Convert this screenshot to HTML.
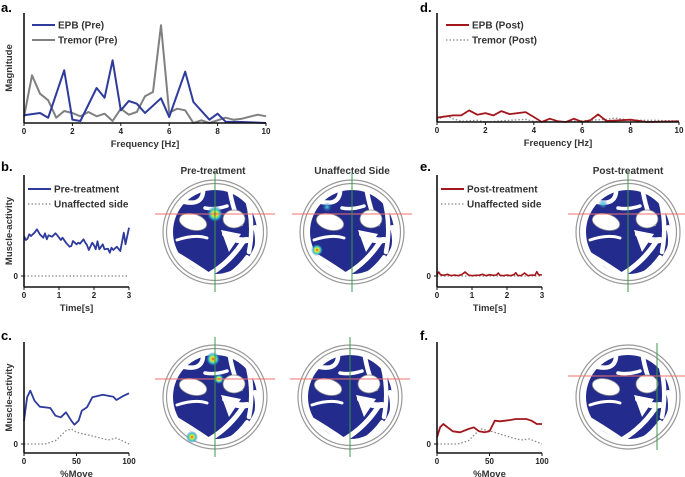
<!DOCTYPE html>
<html><head><meta charset="utf-8">
<style>
body{margin:0;background:#fff;width:685px;height:477px;overflow:hidden}
svg{display:block}
text{font-family:"Liberation Sans",Arial,sans-serif}
.lbl{font-size:13px;font-weight:bold}
.tk{font-size:8px;font-weight:bold;fill:#222}
.ax{font-size:9.5px;font-weight:bold;fill:#333}
.lg{font-size:10px;font-weight:bold;fill:#333}
.tt{font-size:10px;font-weight:bold;fill:#333}
</style></head><body>
<svg id="fig" width="685" height="477" viewBox="0 0 685 477">
<defs>
<clipPath id="cc"><circle cx="0" cy="0" r="46"/></clipPath>
<g id="anat">
<circle r="52" fill="none" stroke="#999" stroke-width="1.2"/>
<circle r="48.5" fill="none" stroke="#999" stroke-width="1.2"/>
<g clip-path="url(#cc)">
<circle r="42" fill="#232b8c"/>
<g fill="none" stroke="#fff" stroke-linecap="round">
<path d="M-46 18 Q-25 30 -2 46" stroke-width="5"/>
<path d="M-30 -30 Q-10 -26 -12 -46" stroke-width="4.5"/>
<path d="M-46 -22 Q-30 -28 -28 -40" stroke-width="4"/>
<path d="M-10 -24 Q0 -22 12 -26" stroke-width="3.5"/>
<path d="M14 -46 Q18 -20 26 -8" stroke-width="4.5"/>
<path d="M30 -40 Q40 -10 34 20" stroke-width="4.5"/>
<path d="M40 -5 Q44 10 40 20" stroke-width="4"/>
<path d="M10 2 Q20 10 32 8" stroke-width="6"/>
<path d="M28 10 Q15 30 -5 42" stroke-width="5"/>
<path d="M32 25 Q25 35 15 42" stroke-width="4"/>
<path d="M-38 8 Q-20 2 -8 6" stroke-width="3"/>
<path d="M-42 30 Q-30 42 -15 46" stroke-width="4"/>
</g>
<path d="M6 -2 L26 2 L14 20 Z" fill="#fff"/>
<ellipse cx="-22" cy="-10" rx="14" ry="8" fill="#fff" stroke="#888" stroke-width="0.8" transform="rotate(15 -22 -10)"/>
<ellipse cx="19" cy="-13" rx="11" ry="9" fill="#fff" stroke="#888" stroke-width="0.8"/>
</g>
</g>
<radialGradient id="hot"><stop offset="0" stop-color="#e33"/><stop offset="0.3" stop-color="#ee2"/><stop offset="0.6" stop-color="#3cc"/><stop offset="1" stop-color="#3060c0" stop-opacity="0"/></radialGradient>
<radialGradient id="warm"><stop offset="0" stop-color="#4dd"/><stop offset="1" stop-color="#3060c0" stop-opacity="0"/></radialGradient>
</defs>

<text class="lbl" x="1" y="12">a.</text>
<text class="lbl" x="420" y="12">d.</text>
<text class="lbl" x="1" y="171">b.</text>
<text class="lbl" x="420" y="171">e.</text>
<text class="lbl" x="1" y="340">c.</text>
<text class="lbl" x="420" y="340">f.</text>

<text class="tt" x="213" y="174" text-anchor="middle">Pre-treatment</text>
<text class="tt" x="352" y="174" text-anchor="middle">Unaffected Side</text>
<text class="tt" x="628" y="174" text-anchor="middle">Post-treatment</text>

<g transform="translate(215,232)">
<use href="#anat"/><circle cx="0" cy="-18" r="8" fill="url(#hot)"/>
<line x1="-60" y1="-18" x2="60" y2="-18" stroke="#f07070" stroke-width="1"/><line x1="0" y1="-60" x2="0" y2="60" stroke="#3a9a4a" stroke-width="1"/></g>
<g transform="translate(352,232)">
<use href="#anat"/><circle cx="-35" cy="18" r="6" fill="url(#hot)"/><circle cx="-25" cy="-25" r="5" fill="url(#warm)"/>
<line x1="-60" y1="-18" x2="60" y2="-18" stroke="#f07070" stroke-width="1"/><line x1="0" y1="-60" x2="0" y2="60" stroke="#3a9a4a" stroke-width="1"/></g>
<g transform="translate(628,232)">
<use href="#anat"/><circle cx="-25" cy="-28" r="5" fill="url(#warm)"/>
<line x1="-60" y1="-18" x2="60" y2="-18" stroke="#f07070" stroke-width="1"/><line x1="0" y1="-60" x2="0" y2="60" stroke="#3a9a4a" stroke-width="1"/></g>
<g transform="translate(215,397)">
<use href="#anat"/><circle cx="-2" cy="-38" r="7" fill="url(#hot)"/><circle cx="4" cy="-18" r="5" fill="url(#hot)"/><circle cx="-23" cy="40" r="6" fill="url(#hot)"/>
<line x1="-60" y1="-18" x2="60" y2="-18" stroke="#f07070" stroke-width="1"/><line x1="0" y1="-60" x2="0" y2="60" stroke="#3a9a4a" stroke-width="1"/></g>
<g transform="translate(350,397)">
<use href="#anat"/>
<line x1="-60" y1="-18" x2="60" y2="-18" stroke="#f07070" stroke-width="1"/><line x1="0" y1="-60" x2="0" y2="60" stroke="#3a9a4a" stroke-width="1"/></g>
<g transform="translate(628,397)">
<use href="#anat"/>
<line x1="-60" y1="-21" x2="60" y2="-21" stroke="#f07070" stroke-width="1"/><line x1="29" y1="-54" x2="29" y2="53" stroke="#3a9a4a" stroke-width="1"/></g>

<g id="charts"></g>
</svg>
<script>
const aEpbHz=[0,0.66,1.0,1.66,2.0,2.33,3.0,3.33,3.66,4.0,4.33,4.66,5.0,5.66,6.0,6.66,7.0,7.66,8.0,8.33,9.0,10];
const aEpbMag=[23,30,16,158,10,6,105,76,188,38,66,58,30,74,18,154,63,10,28,4,3,0];
const aTremHz=[0,0.33,0.66,1.0,1.33,1.66,2.0,2.33,2.66,3.0,3.33,3.66,4.0,4.33,4.66,5.0,5.33,5.66,6.0,6.33,6.66,7.0,7.33,7.66,8.33,8.66,9.0,9.66,10];
const aTremMag=[18,143,88,68,16,36,30,20,33,20,28,6,43,25,33,80,93,293,31,43,38,0,8,0,16,10,13,25,20];
const dEpbHz=[0,0.66,1.0,1.33,1.66,2.0,2.33,2.66,3.0,3.66,4.0,4.33,4.66,5.0,5.33,5.66,6.0,6.33,6.66,7.0,8.0,8.66,10];
const dEpbMag=[13,20,20,35,22,27,20,33,24,30,15,0,10,2,0,10,0,5,23,3,7,0,2];
const dTremHz=[0,0.33,0.66,1.0,1.66,2.0,3.0,3.66,4.0,5.0,7.0,7.33,8.0,9.0,10];
const dTremMag=[5,20,10,2,5,0,5,8,2,0,8,12,5,5,3];
const freqTicks=[0,2,4,6,8,10];
const bTime=[0,0.05,0.1,0.15,0.2,0.3,0.37,0.45,0.55,0.6,0.65,0.7,0.8,0.9,0.95,1.05,1.1,1.2,1.3,1.35,1.4,1.5,1.55,1.6,1.7,1.75,1.8,1.85,1.95,2.0,2.05,2.1,2.15,2.25,2.3,2.4,2.45,2.5,2.55,2.65,2.75,2.85,2.9,3.0];
const bPre=[120,108,112,125,120,130,140,125,115,128,110,122,118,128,122,108,115,100,88,90,105,95,100,97,110,100,93,78,100,92,80,104,80,95,80,82,70,85,78,88,75,130,95,145];
const bUnaff=[0,0];
const bUnaffTime=[0,3];
const eTime=[0,0.05,0.1,0.2,0.3,0.4,0.5,0.6,0.7,0.8,0.9,1.0,1.1,1.2,1.3,1.4,1.5,1.6,1.7,1.75,1.8,1.9,2.0,2.1,2.2,2.25,2.3,2.4,2.5,2.6,2.7,2.8,2.85,2.9,3.0];
const ePost=[3,12,4,2,5,1,3,1,4,12,3,1,2,2,5,1,4,2,3,9,2,1,3,1,4,10,2,1,9,1,3,2,13,4,3];
const eUnaff=[0,0];
const timeTicks=[0,1,2,3];
const cMove=[0,3,6,10,15,25,30,35,40,45,48,52,55,60,65,75,85,88,95,100];
const cPre=[70,140,160,130,112,108,85,80,95,70,58,70,100,110,140,148,142,132,145,152];
const cUnaffMove=[0,20,30,40,45,50,60,70,80,88,100];
const cUnaff=[0,0,10,40,45,35,28,20,12,18,0];
const fMove=[0,3,6,10,15,22,30,35,40,45,50,55,60,70,75,85,90,95,100];
const fPost=[20,50,60,50,38,35,45,50,38,35,38,70,68,72,75,75,70,60,60];
const fUnaffMove=[0,20,30,38,42,50,60,70,80,88,100];
const fUnaff=[0,0,10,35,45,40,30,20,12,15,0];
const moveTicks=[0,50,100];

const NS='http://www.w3.org/2000/svg';
const root=document.getElementById('charts');
function mk(tag,attrs,parent){const e=document.createElementNS(NS,tag);for(const k in attrs)e.setAttribute(k,attrs[k]);(parent||root).appendChild(e);return e;}
function scale(d0,d1,r0,r1){return v=>r0+(v-d0)/(d1-d0)*(r1-r0);}
function line(g,xs,ys,sx,sy,stroke,w,dash,name){
  const p=mk('path',{d:xs.map((x,i)=>(i?'L':'M')+sx(x).toFixed(1)+','+sy(ys[i]).toFixed(1)).join(''),fill:'none',stroke:stroke,'stroke-width':w,'stroke-linejoin':'round'},g);
  if(dash)p.setAttribute('stroke-dasharray',dash);
  
  
}
function axes(g,x0,x1,yTop,yBase,sx,ticks,xlabel,ylabel,zeroY){
  mk('line',{x1:x0,y1:yTop,x2:x0,y2:yBase,stroke:'#111','stroke-width':1.6},g);
  mk('line',{x1:x0,y1:yBase,x2:x1,y2:yBase,stroke:'#111','stroke-width':1.6},g);
  ticks.forEach(t=>{
    mk('line',{x1:sx(t),y1:yBase,x2:sx(t),y2:yBase+3,stroke:'#111'},g);
    const tx=mk('text',{x:sx(t),y:yBase+11,'text-anchor':'middle',class:'tk'},g);tx.textContent=t;
    
    
  });
  if(zeroY!==undefined){
    mk('line',{x1:x0-3,y1:zeroY,x2:x0,y2:zeroY,stroke:'#111'},g);
    const z=mk('text',{x:x0-6,y:zeroY+3,'text-anchor':'end',class:'tk'},g);z.textContent='0';
    
    
  }
  const xl=mk('text',{x:(x0+x1)/2,y:yBase+24,'text-anchor':'middle',class:'ax'},g);xl.textContent=xlabel;
  
  
  if(ylabel){const cy=(yTop+yBase)/2;const yl=mk('text',{x:x0-12,y:cy,'text-anchor':'middle',class:'ax',transform:'rotate(-90 '+(x0-12)+' '+cy+')'},g);yl.textContent=ylabel;
    
    }
}
function legend(g,x,y,items){
  items.forEach((it,i)=>{
    const yy=y+i*15;
    const l=mk('line',{x1:x,y1:yy,x2:x+23,y2:yy,stroke:it.c,'stroke-width':it.d?1.3:2},g);
    if(it.d)l.setAttribute('stroke-dasharray','1.5,2');
    
    
    const t=mk('text',{x:x+26,y:yy+3.5,class:'lg'},g);t.textContent=it.t;
    
    
  });
}
const BLUE='#2e3a9c',GRAY='#808080',RED='#a3161c',DOT='#888';
let g=mk('g',{});
let sx=scale(0,10,24,266),sy=scale(0,330,123,13);
line(g,aTremHz,aTremMag,sx,sy,GRAY,2,null,'tremor-pre-line');
line(g,aEpbHz,aEpbMag,sx,sy,BLUE,2,null,'epb-pre-line');
axes(g,24,266,13,123,sx,freqTicks,'Frequency [Hz]','Magnitude');
legend(g,32,25,[{t:'EPB (Pre)',c:BLUE},{t:'Tremor (Pre)',c:GRAY}]);
g=mk('g',{});
sx=scale(0,10,437,679);sy=scale(0,330,122,13);
line(g,dTremHz,dTremMag,sx,sy,DOT,1.3,'1.5,2','tremor-post-line');
line(g,dEpbHz,dEpbMag,sx,sy,RED,1.8,null,'epb-post-line');
axes(g,437,679,13,122,sx,freqTicks,'Frequency [Hz]');
legend(g,446,25,[{t:'EPB (Post)',c:RED},{t:'Tremor (Post)',c:DOT,d:1}]);
g=mk('g',{});
sx=scale(0,3,24,129);sy=scale(0,300,276,176);
line(g,bUnaffTime,bUnaff,sx,sy,DOT,1.3,'1.5,2','unaffected-line');
line(g,bTime,bPre,sx,sy,BLUE,1.8,null,'pre-treatment-line');
axes(g,24,129,175,287,sx,timeTicks,'Time[s]','Muscle-activity',276);
legend(g,28,189,[{t:'Pre-treatment',c:BLUE},{t:'Unaffected side',c:DOT,d:1}]);
g=mk('g',{});
sx=scale(0,3,437,542);sy=scale(0,300,276,176);
line(g,bUnaffTime,eUnaff,sx,sy,DOT,1.3,'1.5,2','unaffected-line');
line(g,eTime,ePost,sx,sy,RED,1.6,null,'post-treatment-line');
axes(g,437,542,175,287,sx,timeTicks,'Time[s]',null,276);
legend(g,441,189,[{t:'Post-treatment',c:RED},{t:'Unaffected side',c:DOT,d:1}]);
g=mk('g',{});
sx=scale(0,100,24,129);sy=scale(0,300,444,344);
line(g,cUnaffMove,cUnaff,sx,sy,DOT,1.3,'1.5,2','unaffected-line');
line(g,cMove,cPre,sx,sy,BLUE,1.8,null,'pre-treatment-line');
axes(g,24,129,342,453,sx,moveTicks,'%Move','Muscle-activity',444);
g=mk('g',{});
sx=scale(0,100,437,542);sy=scale(0,300,444,344);
line(g,fUnaffMove,fUnaff,sx,sy,DOT,1.3,'1.5,2','unaffected-line');
line(g,fMove,fPost,sx,sy,RED,1.8,null,'post-treatment-line');
axes(g,437,542,342,453,sx,moveTicks,'%Move',null,444);
</script>
</body></html>
